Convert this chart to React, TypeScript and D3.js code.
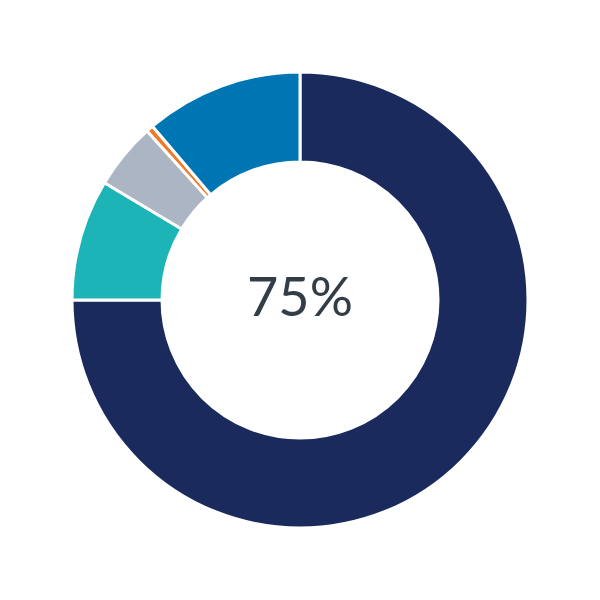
import React from "react";
import * as d3 from "d3";

const categories = ["A", "B", "C", "D", "E"];
const values = [75, 8.6, 4.7, 0.5, 11.2];
const colors = ["#1b2a5c", "#1db4b7", "#abb5c3", "#f07a2a", "#0075b4"];
const centerLabel = "75%";

const width = 600;
const height = 600;
const outerRadius = 228;
const innerRadius = 138;

const App = () => {
  const pie = d3
    .pie<number>()
    .sort(null)
    .value((d) => d);

  const arc = d3
    .arc<d3.PieArcDatum<number>>()
    .innerRadius(innerRadius)
    .outerRadius(outerRadius);

  const arcs = pie(values);

  return (
    <svg
      width={width}
      height={height}
      style={{ position: "absolute", left: 0, top: 0 }}
    >
      <rect width={width} height={height} fill="#ffffff" />
      <g transform={`translate(${width / 2},${height / 2})`}>
        {arcs.map((a, i) => (
          <path
            key={categories[i]}
            d={arc(a) as string}
            fill={colors[i]}
            stroke="#ffffff"
            strokeWidth={3}
            strokeLinejoin="round"
          />
        ))}
        <text
          textAnchor="middle"
          dy="0.3em"
          fontFamily="Lato, 'Open Sans', sans-serif"
          fontSize={54}
          fill="#333d47"
        >
          {centerLabel}
        </text>
      </g>
    </svg>
  );
};

export default App;
